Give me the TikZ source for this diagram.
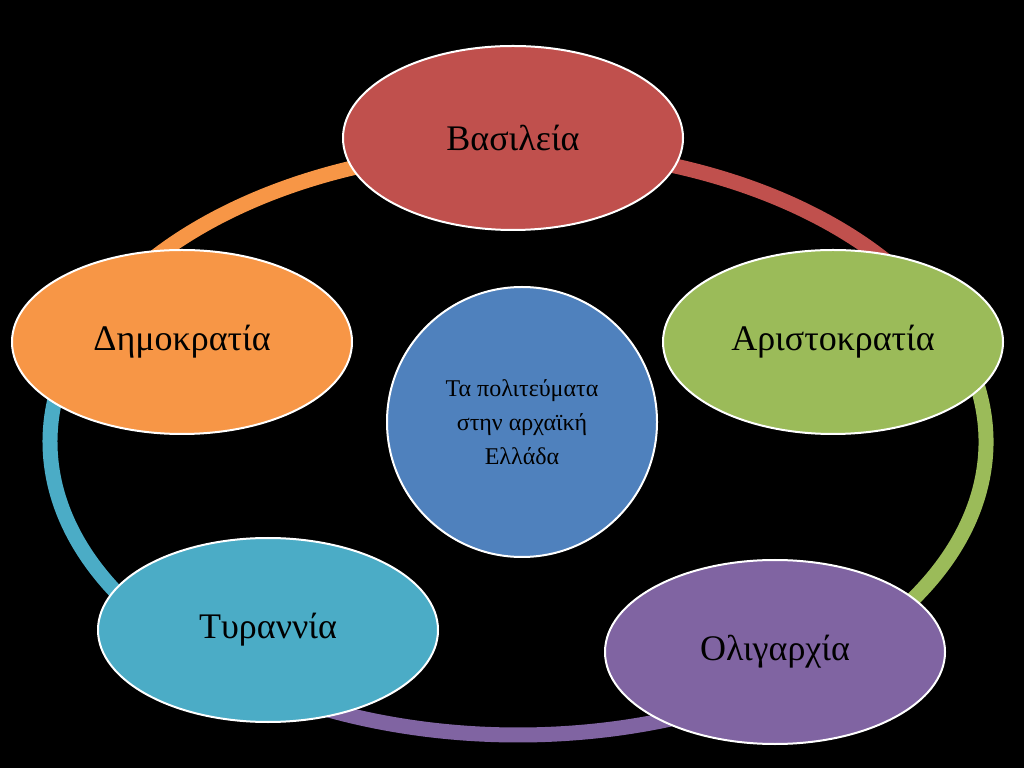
\documentclass[tikz,border=0pt]{standalone}
\usepackage{fontspec}
\setmainfont{Liberation Serif}
\usetikzlibrary{shapes.geometric}
\definecolor{cred}{HTML}{C0504D}
\definecolor{cgreen}{HTML}{9BBB59}
\definecolor{cpurple}{HTML}{8064A2}
\definecolor{cteal}{HTML}{4BACC6}
\definecolor{corange}{HTML}{F79646}
\definecolor{cblue}{HTML}{4F81BD}
\tikzset{
  stage/.style={ellipse, draw=white, line width=2pt, minimum width=340pt, minimum height=184pt,
    inner sep=0pt, text=black, font=\fontsize{36}{42}\selectfont},
  ring/.style={line width=15pt}
}
\begin{document}
\begin{tikzpicture}[x=1pt,y=1pt]
\fill[black] (0,0) rectangle (1024,768);
\useasboundingbox (0,0) rectangle (1024,768);

%o anel em volta
\coordinate (C) at (518,326);
\draw[ring, cred] ([shift={(90:468pt and 293pt)}]C) arc[start angle=90, end angle=27, x radius=468pt, y radius=293pt];
\draw[ring, cgreen] ([shift={(27:468pt and 293pt)}]C) arc[start angle=27, end angle=-53, x radius=468pt, y radius=293pt];
\draw[ring, cpurple] ([shift={(-53:468pt and 293pt)}]C) arc[start angle=-53, end angle=-130, x radius=468pt, y radius=293pt];
\draw[ring, cteal] ([shift={(230:468pt and 293pt)}]C) arc[start angle=230, end angle=155, x radius=468pt, y radius=293pt];
\draw[ring, corange] ([shift={(155:468pt and 293pt)}]C) arc[start angle=155, end angle=90, x radius=468pt, y radius=293pt];

%os cinco politeumata
\node[stage, fill=cred] (vas) at (513,630) {Βασιλεία};
\node[stage, fill=cgreen] (aris) at (833,426) {Αριστοκρατία};
\node[stage, fill=cpurple] (olig) at (775,116) {Ολιγαρχία};
\node[stage, fill=cteal] (tyr) at (268,138) {Τυραννία};
\node[stage, fill=corange] (dim) at (182,426) {Δημοκρατία};

%o centro
\node[circle, draw=white, line width=2pt, fill=cblue, minimum size=270pt, align=center,
  font=\fontsize{24}{34}\selectfont] (centro) at (522,346) {Τα πολιτεύματα\\στην αρχαϊκή\\Ελλάδα};
\end{tikzpicture}
\end{document}
